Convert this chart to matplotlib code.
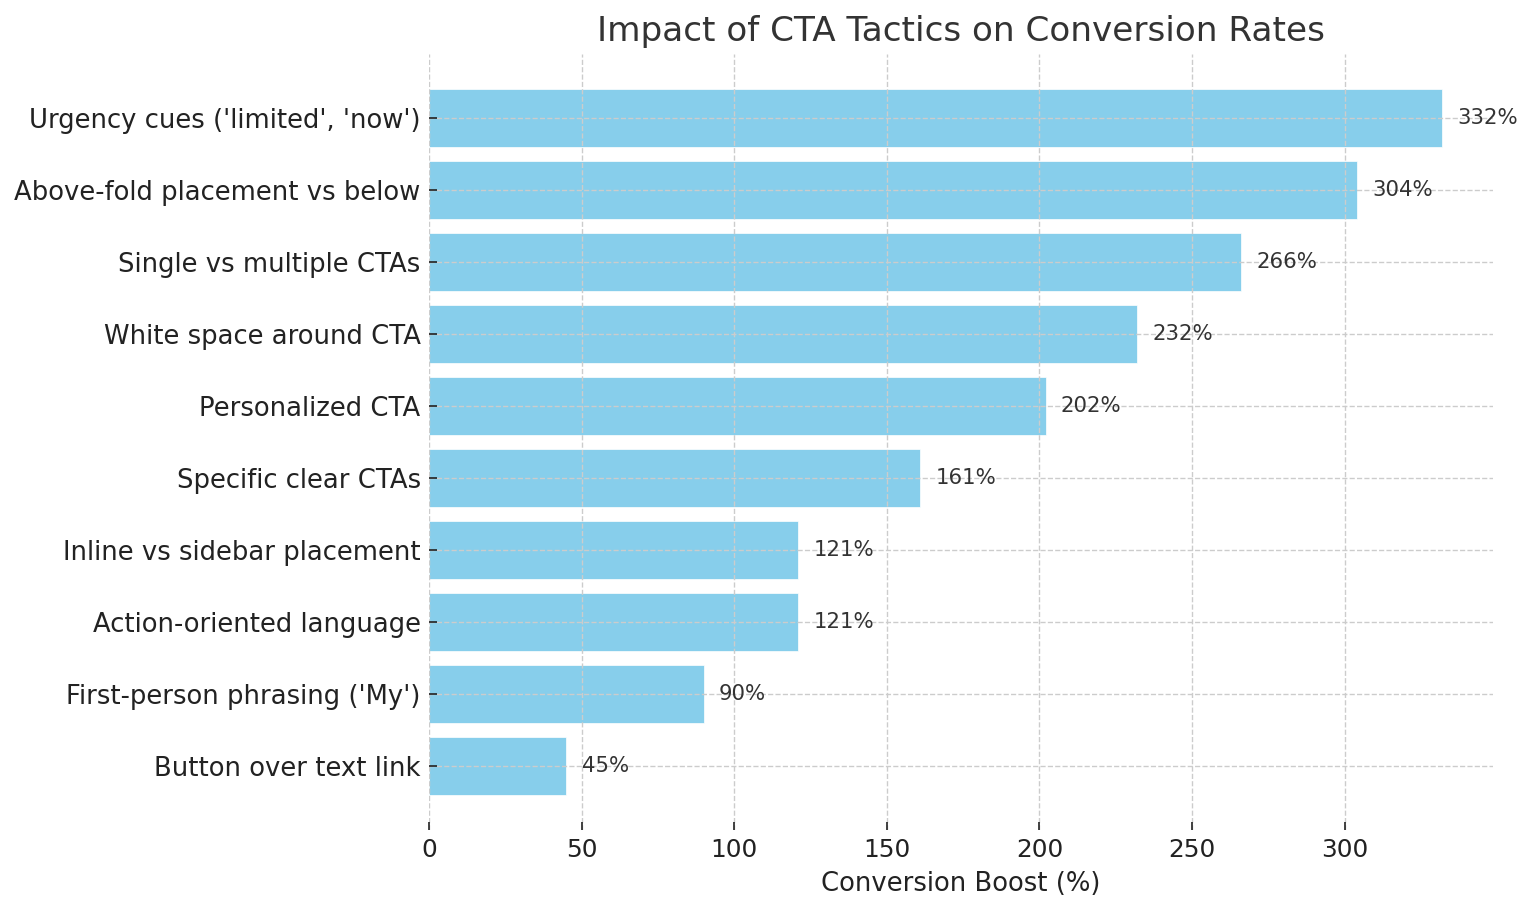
import matplotlib
matplotlib.use("Agg")
import matplotlib.pyplot as plt

tactics = [
    "Button over text link",
    "First-person phrasing ('My')",
    "Action-oriented language",
    "Inline vs sidebar placement",
    "Specific clear CTAs",
    "Personalized CTA",
    "White space around CTA",
    "Single vs multiple CTAs",
    "Above-fold placement vs below",
    "Urgency cues ('limited', 'now')",
]
boost = [45, 90, 121, 121, 161, 202, 232, 266, 304, 332]

plt.rcParams['font.family'] = ['DejaVu Sans']
fig = plt.figure(figsize=(15.36, 9.13), dpi=100)
ax = fig.add_axes([0.2793, 0.0909, 0.6927, 0.85])

bars = ax.barh(tactics, boost, color="#87CEEB", height=0.8, edgecolor="white", linewidth=0.5)
for y, v in enumerate(boost):
    ax.text(v + 5, y, f"{v}%", va="center", ha="left", fontsize=15.3, color="#333333")

ax.set_xlim(0, max(boost) * 1.05)
ax.grid(True, linestyle="--", color="#cccccc", linewidth=1)
ax.set_axisbelow(False)
for s in ax.spines.values():
    s.set_visible(False)
ax.tick_params(axis="both", colors="#222222", length=6, direction="in", width=1.2)
ax.tick_params(axis="y", labelsize=18.6, pad=6)
ax.tick_params(axis="x", labelsize=17.8, pad=6)
ax.set_xlabel("Conversion Boost (%)", fontsize=18.6, color="#222222", labelpad=6)
ax.set_title("Impact of CTA Tactics on Conversion Rates", fontsize=24.7, color="#333333", pad=9)

fig.savefig("out.png", dpi=100)
